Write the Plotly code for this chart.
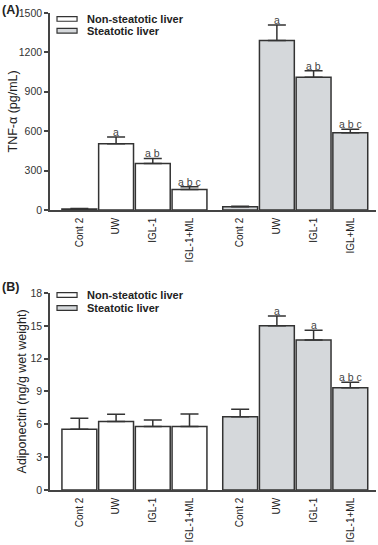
import plotly.graph_objects as go

# ---------------- data ----------------
groups = ["Non-steatotic liver", "Steatotic liver"]
labels_A = ["Cont 2", "UW", "IGL-1", "IGL-1+ML", "Cont 2", "UW", "IGL-1", "IGL+ML"]
labels_B = ["Cont 2", "UW", "IGL-1", "IGL-1+ML", "Cont 2", "UW", "IGL-1", "IGL-1+ML"]

tnf_non = [8, 505, 355, 157]
tnf_non_err = [3, 50, 38, 20]
tnf_non_sig = ["", "a", "a b", "a b c"]
tnf_ste = [25, 1290, 1010, 589]
tnf_ste_err = [3, 118, 50, 25]
tnf_ste_sig = ["", "a", "a b", "a b c"]

adipo_non = [5.55, 6.25, 5.8, 5.8]
adipo_non_err = [1.0, 0.68, 0.6, 1.15]
adipo_non_sig = ["", "", "", ""]
adipo_ste = [6.7, 15.0, 13.7, 9.35]
adipo_ste_err = [0.67, 0.9, 0.9, 0.5]
adipo_ste_sig = ["", "a", "a", "a b c"]

tnf_ticks = [0, 300, 600, 900, 1200, 1500]
adipo_ticks = [0, 3, 6, 9, 12, 15, 18]

# ---------------- style ----------------
pos_non = [0, 1, 2, 3]
pos_ste = [4.38, 5.38, 6.38, 7.38]
fills = ["#ffffff", "#d5d8db"]
edge = "#333333"
FONT = "Liberation Sans, Arial, sans-serif"

fig = go.Figure()


def add_bars(xa, ya, vals, errs, positions, fill):
    fig.add_trace(go.Bar(
        x=positions, y=vals, width=0.95, xaxis=xa, yaxis=ya,
        marker=dict(color=fill, line=dict(color=edge, width=1.5)),
        error_y=dict(type="data", array=errs, arrayminus=[0] * len(errs),
                     symmetric=False, color=edge, thickness=1.5, width=9),
        showlegend=False, hoverinfo="skip"))


add_bars("x", "y", tnf_non, tnf_non_err, pos_non, fills[0])
add_bars("x", "y", tnf_ste, tnf_ste_err, pos_ste, fills[1])
add_bars("x2", "y2", adipo_non, adipo_non_err, pos_non, fills[0])
add_bars("x2", "y2", adipo_ste, adipo_ste_err, pos_ste, fills[1])

ann = []
shapes = []


def add_sig(xa, ya, vals, errs, sigs, positions):
    for p, v, e, s in zip(positions, vals, errs, sigs):
        if s:
            ann.append(dict(x=p, y=v + e, xref=xa, yref=ya, text=s, showarrow=False,
                            yanchor="bottom", yshift=-3,
                            font=dict(family=FONT, size=10.5, color="#444")))


add_sig("x", "y", tnf_non, tnf_non_err, tnf_non_sig, pos_non)
add_sig("x", "y", tnf_ste, tnf_ste_err, tnf_ste_sig, pos_ste)
add_sig("x2", "y2", adipo_non, adipo_non_err, adipo_non_sig, pos_non)
add_sig("x2", "y2", adipo_ste, adipo_ste_err, adipo_ste_sig, pos_ste)


# manual legends (swatch + text)
def add_legend(xa, ya, rows):
    for (yc, name, fill) in rows:
        shapes.append(dict(type="rect", xref=xa + " domain", yref=ya + " domain",
                           x0=0.0215, x1=0.083, y0=yc - 0.012, y1=yc + 0.012,
                           fillcolor=fill, line=dict(color=edge, width=1.2)))
        ann.append(dict(x=0.107, y=yc, xref=xa + " domain", yref=ya + " domain",
                        text=name, showarrow=False, xanchor="left", yanchor="middle",
                        font=dict(family=FONT, size=11, color="#222")))


add_legend("x", "y", [(0.97, "<b>" + groups[0] + "</b>", fills[0]),
                      (0.91, "<b>" + groups[1] + "</b>", fills[1])])
add_legend("x2", "y2", [(0.99, "<b>" + groups[0] + "</b>", fills[0]),
                        (0.924, "<b>" + groups[1] + "</b>", fills[1])])

# axis titles & panel labels
ann.append(dict(x=-0.1135, y=0.7935, xref="paper", yref="paper", text="TNF-α (pg/mL)",
                textangle=-90, showarrow=False, xanchor="center", yanchor="middle",
                font=dict(family=FONT, size=12.5, color="#222")))
ann.append(dict(x=-0.083, y=0.2065, xref="paper", yref="paper",
                text="Adiponectin (ng/g wet weight)",
                textangle=-90, showarrow=False, xanchor="center", yanchor="middle",
                font=dict(family=FONT, size=12.5, color="#222")))
ann.append(dict(x=-0.153, y=1.0063, xref="paper", yref="paper", text="<b>(A)</b>",
                showarrow=False, xanchor="left", yanchor="middle",
                font=dict(family=FONT, size=12.5, color="#222")))
ann.append(dict(x=-0.153, y=0.4256, xref="paper", yref="paper", text="<b>(B)</b>",
                showarrow=False, xanchor="left", yanchor="middle",
                font=dict(family=FONT, size=12.5, color="#222")))

positions = pos_non + pos_ste
xcommon = dict(range=[-0.8, 8.08], showgrid=False, zeroline=False, showline=True,
               linecolor="#444", linewidth=1.5, ticks="outside", ticklen=2,
               tickcolor="rgba(0,0,0,0)", tickangle=-90,
               tickfont=dict(family=FONT, size=10, color="#222"),
               tickvals=positions, automargin=False, fixedrange=True)
ycommon = dict(showgrid=False, zeroline=False, showline=True, linecolor="#444",
               linewidth=1.5, ticks="outside", ticklen=4, tickwidth=1.5,
               tickcolor="#444", tickfont=dict(family=FONT, size=10.5, color="#333"),
               automargin=False, fixedrange=True)

fig.update_layout(
    width=378, height=545,
    margin=dict(l=50, r=2, t=13, b=55),
    plot_bgcolor="white", paper_bgcolor="white",
    barmode="overlay", showlegend=False,
    xaxis=dict(xcommon, domain=[0, 1], anchor="y", ticktext=labels_A),
    yaxis=dict(ycommon, domain=[0.587, 1], anchor="x", range=[0, 1500],
               tickvals=tnf_ticks),
    xaxis2=dict(xcommon, domain=[0, 1], anchor="y2", ticktext=labels_B),
    yaxis2=dict(ycommon, domain=[0, 0.413], anchor="x2", range=[0, 18],
                tickvals=adipo_ticks),
    annotations=ann, shapes=shapes,
)

fig.write_html("out.html", config={"displayModeBar": False},
               post_script="document.body.style.margin='0px';document.body.style.overflow='hidden';")
